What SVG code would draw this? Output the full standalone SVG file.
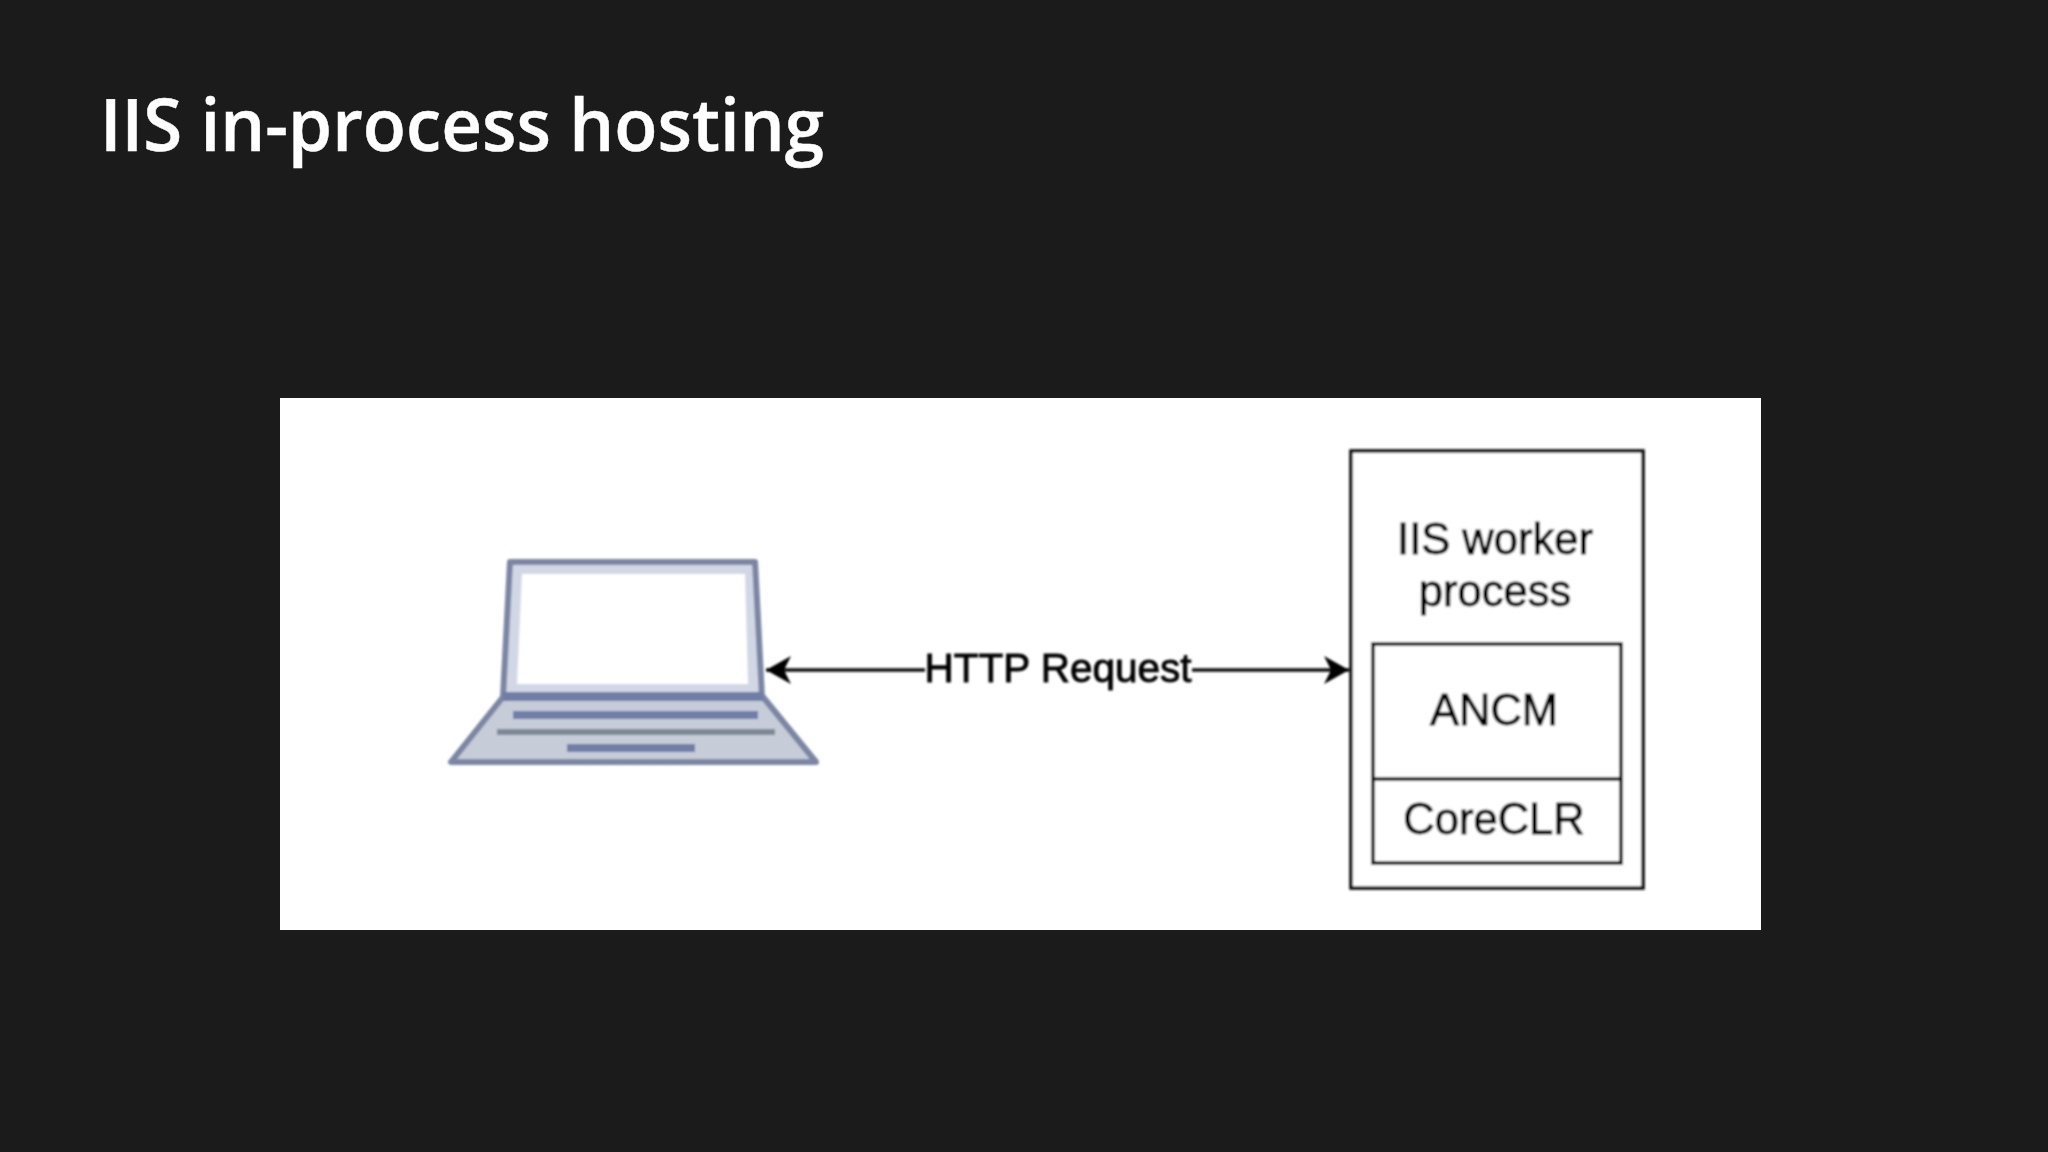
<svg xmlns="http://www.w3.org/2000/svg" width="2048" height="1152" viewBox="0 0 2048 1152">
  <defs>
    <filter id="soft" x="-5%" y="-5%" width="110%" height="110%"><feGaussianBlur stdDeviation="0.9"/></filter>
    <marker id="head" viewBox="0 0 26 28" refX="25" refY="14" markerWidth="26" markerHeight="28" markerUnits="userSpaceOnUse" orient="auto-start-reverse">
      <path d="M0 0 L25 14 L0 28 L7 14 Z" fill="#000"/>
    </marker>
  </defs>
  <style>
    .lbl { font-family: "Liberation Sans", Arial, sans-serif; font-size: 43.5px; fill: #000; stroke: #000; stroke-width: 0.9; text-anchor: middle; }
    .box { fill: #fff; stroke: #111; stroke-width: 3.6; }
    .bar { fill: #6f7ea8; }
    .lap { stroke: #7b86a3; stroke-linejoin: round; }
  </style>
  <rect width="2048" height="1152" fill="#1b1b1c"/>
  <text id="title" x="100" y="151" font-family="'Open Sans', sans-serif" font-size="72" font-weight="600" fill="#fff" stroke="#fff" stroke-width="0.5" textLength="724" lengthAdjust="spacingAndGlyphs">IIS in-process hosting</text>
  <rect id="panel" x="280" y="398" width="1481" height="532" fill="#fff"/>
  <g filter="url(#soft)">
    <g id="connectors">
      <line x1="766" y1="670" x2="925" y2="670" stroke="#111" stroke-width="3.5" marker-start="url(#head)"/>
      <line x1="1192" y1="670" x2="1349" y2="670" stroke="#111" stroke-width="3.5" marker-end="url(#head)"/>
      <text id="http-label" class="lbl" x="1058" y="682" style="font-size:40.5px">HTTP Request</text>
    </g>
    <g id="laptop">
      <path class="lap" d="M503 697 L451 762 L816 762 L763 697 Z" fill="#c6ccd8" stroke-width="6"/>
      <path class="lap" d="M510 562 L755 562 L762 697 L503 697 Z" fill="#d2d7e6" stroke-width="6"/>
      <path d="M522 574 L745 574 L748 684 L517 684 Z" fill="#fff"/>
      <rect x="503" y="692" width="260" height="9" fill="#6f7da6"/>
      <rect class="bar" x="513" y="711" width="245" height="8"/>
      <rect x="497" y="729" width="278" height="6" fill="#7d8896"/>
      <rect class="bar" x="567" y="744" width="128" height="8"/>
    </g>
    <g id="iis-worker-process">
      <rect class="box" x="1351" y="451" width="292" height="437"/>
      <text class="lbl" x="1495" y="554">IIS worker</text>
      <text class="lbl" x="1495" y="606">process</text>
    </g>
    <g id="ancm">
      <rect class="box" x="1373" y="644" width="248" height="135"/>
      <text class="lbl" x="1494" y="725">ANCM</text>
    </g>
    <g id="coreclr">
      <rect class="box" x="1373" y="779" width="248" height="84"/>
      <text class="lbl" x="1494" y="834">CoreCLR</text>
    </g>
  </g>
</svg>
